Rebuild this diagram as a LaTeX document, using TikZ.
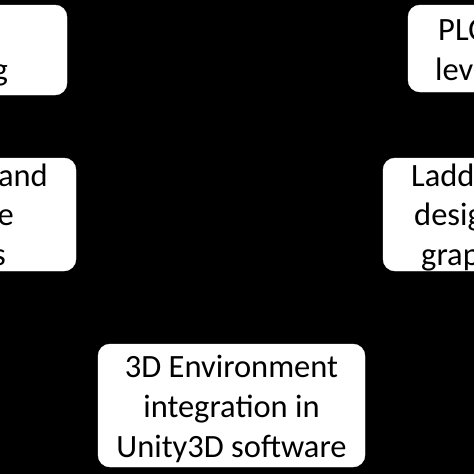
\documentclass[tikz,border=0pt]{standalone}
\usepackage{fontspec}
\setmainfont{Carlito}
\usetikzlibrary{shapes}

\tikzset{
  blk/.style={draw=white, fill=white, rounded corners=12pt, inner sep=0pt},
  txt/.style={inner sep=0pt, text=black, font=\fontsize{32.5}{40}\selectfont},
}

\begin{document}
\begin{tikzpicture}[x=1pt,y=-1pt]
          \useasboundingbox (0,0) rectangle (474,474);
          \clip (0,0) rectangle (474,474);
          \fill [black] (0,0) rectangle (474,474);
          % boxes
          \node [blk, minimum width=147pt, minimum height=90pt] (model) at (-6.5,50) {};
          \node [blk, minimum width=176pt, minimum height=113pt] (soft) at (-12,214.5) {};
          \node [blk, minimum width=152pt, minimum height=87pt] (plc) at (484,48.5) {};
          \node [blk, minimum width=177pt, minimum height=113pt] (ladder) at (471.5,214.5) {};
          \node [blk, minimum width=267pt, minimum height=123pt] (unity) at (231.5,405.5) {};
          % texts
          \node [txt, anchor=base east] (modeltxt) at (8,80) {g};
          \node [txt, anchor=base east] (softa) at (48,186) {and};
          \node [txt, anchor=base east] (softb) at (14,225) {e};
          \node [txt, anchor=base east] (softc) at (6,265) {s};
          \node [txt, anchor=base west] (plca) at (438,40) {PLC};
          \node [txt, anchor=base west] (plcb) at (435,80) {lev};
          \node [txt, anchor=base west] (laddera) at (411,186) {Ladd};
          \node [txt, anchor=base west] (ladderb) at (414,225) {desig};
          \node [txt, anchor=base west] (ladderc) at (421,265) {grap};
          \node [txt, align=center, anchor=base] (unitytxt) at (231.5,457) {3D Environment\\integration in\\Unity3D software};
        \end{tikzpicture}
\end{document}
